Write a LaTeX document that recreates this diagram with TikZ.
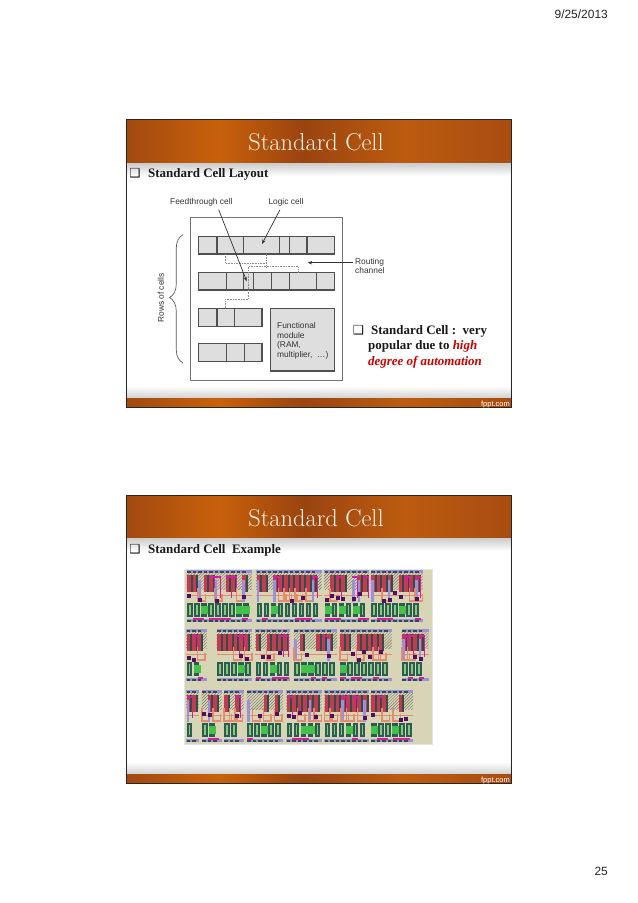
\documentclass[tikz,border=0pt]{standalone}
\usepackage{fontspec}
\usetikzlibrary{patterns,decorations.pathreplacing,arrows.meta}
\newfontfamily\serifb{Liberation Serif}
\newfontfamily\arialf{Liberation Sans}
\newfontfamily\dejav{DejaVu Sans}
\definecolor{hA}{HTML}{A24A10}
\definecolor{hB}{HTML}{C9610B}
\definecolor{hC}{HTML}{9A4410}
\definecolor{hD}{HTML}{BD5C10}
\definecolor{hE}{HTML}{A84C10}
\definecolor{cellfill}{HTML}{DEDEDE}
\definecolor{celledge}{HTML}{505050}
\definecolor{ink}{HTML}{333333}
\definecolor{laybg}{HTML}{D8D4B6}
\definecolor{lilac}{HTML}{9C8FDC}
\definecolor{lred}{HTML}{C53A50}
\definecolor{ldark}{HTML}{2E4F47}
\definecolor{lteal}{HTML}{2B5E50}
\definecolor{lgreen}{HTML}{45C04A}
\definecolor{lsalmon}{HTML}{E68A70}
\definecolor{lmag}{HTML}{D020A0}
\definecolor{lpurp}{HTML}{50105F}
\definecolor{hatchc}{HTML}{77776A}
\definecolor{titlec}{HTML}{FBF3E4}
\pgfdeclarehorizontalshading{hdrshade}{100bp}{color(0bp)=(hA); color(25bp)=(hA); color(37bp)=(hB); color(48bp)=(hC); color(61bp)=(hD); color(75bp)=(hE); color(100bp)=(hE)}
\tikzset{
 x=1bp,y=-1bp,
 band/.style={shading=hdrshade},
 frameline/.style={draw=black!85,line width=1bp},
 title/.style={text=titlec,font=\fontsize{24.5}{27}\selectfont,anchor=base},
 bullet/.style={font=\dejav\fontsize{12.5}{14}\selectfont,anchor=base,inner sep=0pt,text=black!90},
 slidetext/.style={font=\serifb\bfseries\fontsize{13}{15}\selectfont,anchor=base west,inner sep=0pt,text=black!90},
 fppt/.style={font=\arialf\fontsize{7.5}{9}\selectfont,text=white,anchor=base east,inner sep=0pt},
 pagetext/.style={font=\arialf\fontsize{12}{14}\selectfont,text=black!85,anchor=base east,inner sep=0pt},
 lab/.style={font=\arialf\fontsize{8.4}{9.6}\selectfont,text=ink,anchor=base west,inner sep=0pt},
 cellbox/.style={draw=celledge,fill=cellfill,line width=1.1bp,inner sep=0pt,outer sep=0pt},
 route/.style={draw=black!45,line width=0.8bp,dash pattern=on 0.8bp off 0.8bp},
 pointer/.style={draw=ink,line width=0.7bp,-{Stealth[length=4.5bp,width=3.5bp]}},
}
% one row of the schematic: name, top, bottom, cells as left/right
\newcommand{\cellrow}[4]{%
 \foreach \a/\b [count=\i] in {#4}{%
  \node[cellbox,minimum width={(\b-\a)*1bp},minimum height={(#3-#2)*1bp}] (#1\i) at ({(\a+\b)/2},{(#2+#3)/2}) {};
 }}
% one standard cell of the layout picture
\newcommand{\lcell}[3]{%
\begin{scope}[shift={(#1,#2)}]
 \pgfmathsetmacro{\lW}{#3}
 \pgfmathtruncatemacro{\lN}{floor(\lW/5.5)-1}
 \pgfmathtruncatemacro{\lM}{floor(\lW/7)-1}
 \fill[pattern=north east lines,pattern color=hatchc] (0,3) rectangle (\lW,19);
 \fill[lilac] (0,0) rectangle (\lW,3);
 \fill[lilac] (0,49) rectangle (\lW,52);
 \fill[lsalmon] (0,25) rectangle (\lW,26.2);
 \foreach \i in {0,...,\lN}{%
  \pgfmathsetmacro{\cx}{\i*5.5+0.6}
  \pgfmathsetmacro{\cy}{\cx+3.6}
  \pgfmathsetmacro{\cz}{\cx+5.5}
  \pgfmathrandominteger{\r}{0}{3}
  \ifnum\r>0
   \fill[lred] (\cx,5) rectangle (\cy,22);
   \fill[ldark] (\cy,5) rectangle (\cz,22);
  \fi
  \fill[ldark] (\cx,50) rectangle (\cy,52);
  \fill[ldark] (\cx,0.5) rectangle (\cy,2.5);
  \pgfmathrandominteger{\r}{0}{3}
  \ifnum\r=0
   \fill[lilac] (\cx,10) rectangle (\cx+2.5,32);
  \fi
  \pgfmathrandominteger{\r}{0}{2}
  \ifnum\r=0
   \draw[lsalmon,line width=1.3bp] (\cx,18) -- (\cx,31) -- (\cz+2,31) -- (\cz+2,24);
  \fi
  \pgfmathrandominteger{\r}{0}{3}
  \ifnum\r=1
   \draw[lmag,line width=1.1bp] (\cx,7) -- (\cz,7) -- (\cz,28);
  \fi
  \pgfmathrandominteger{\r}{0}{1}
  \ifnum\r=0
   \pgfmathrandominteger{\r}{21}{29}
   \fill[lpurp] (\cx,\r) rectangle (\cy+0.5,\r+4);
  \fi
  \pgfmathrandominteger{\r}{0}{2}
  \ifnum\r=0
   \fill[lmag] (\cx,48) rectangle (\cz,50);
  \fi
 }
 \foreach \i in {0,...,\lM}{%
  \pgfmathsetmacro{\cx}{\i*7+0.7}
  \pgfmathsetmacro{\cz}{\cx+5.6}
  \fill[lteal] (\cx,33) rectangle (\cz,47);
  \pgfmathrandominteger{\r}{0}{3}
  \ifnum\r=0 \fill[lgreen] (\cx,36) rectangle (\cz+1.4,44);\else
  \fill[lgreen!55!laybg] (\cx+2,35) rectangle (\cx+3.6,45);\fi
 }
\end{scope}}
\begin{document}
\begin{tikzpicture}
\useasboundingbox (0,0) rectangle (638,903);
\fill[white] (0,0) rectangle (638,903);
\node[pagetext] (date) at (608,18) {9/25/2013};
\node[pagetext] (page) at (608,875) {25};

% ---------- slide 1 ----------
\shade[top color=black!22,bottom color=white] (126.5,162) rectangle (511.5,176);
\shade[top color=white,bottom color=black!18] (126.5,386) rectangle (511.5,398);
\shade[band] (126.5,119.5) rectangle (511.5,162);
\shade[band] (126.5,398) rectangle (511.5,407.5);
\draw[frameline] (126.5,119.5) rectangle (511.5,407.5);
\node[title] (t1) at (316,150) {Standard Cell};
\node[fppt] (f1) at (510,406) {fppt.com};
\node[bullet] (b1) at (135,177) {❑};
\node[slidetext] (h1) at (148,177) {Standard Cell Layout};

\draw[draw=black!55,fill=white,line width=0.9bp] (190,217.7) rectangle (342.3,380.3);
\cellrow{ra}{236.3}{254}{198.3/217,217/243.7,243.7/279.7,279.7/289.3,289.3/307,307/334.3}
\cellrow{rb}{272.3}{290}{198.3/226.3,226.3/243.7,243.7/253.3,253.3/271.3,271.3/289.3,289.3/316.3,316.3/334.3}
\cellrow{rc}{308.3}{326.3}{198.3/217,217/234.7,234.7/262}
\cellrow{rd}{343.7}{361.7}{198.3/226.3,226.3/244.3,244.3/262}
\cellrow{fm}{308.3}{371}{270.3/334.3}

\draw[route] (225.7,254) |- (266.7,263.3) -- (266.7,254);
\draw[route] (266.7,263.3) -- (266.7,266.7);
\draw[route] (248.3,272.3) |- (298,266.7) -- (298,272.3);
\draw[route] (248.3,272.3) -- (248.3,299.3) -| (225.7,308.3);

\node[lab] (feed) at (170,204.5) {Feedthrough cell};
\node[lab] (logic) at (268.3,204.5) {Logic cell};
\node[lab] (rout) at (355,264) {Routing};
\node[lab] (chan) at (355,273.5) {channel};
\node[lab,rotate=90,anchor=center] (rows) at (161,298) {Rows of cells};
\node[lab] (fm1) at (277,328.5) {Functional};
\node[lab] (fm2) at (277,338) {module};
\node[lab] (fm3) at (277,347.5) {(RAM,};
\node[lab] (fm4) at (277,357) {multiplier,\ \ …)};

\coordinate (feedS) at (218.7,209.7);
\coordinate (feedE) at (246.7,281.3);
\coordinate (logS) at (280,209.7);
\coordinate (logE) at (262,244);
\coordinate (routS) at (352.7,262.7);
\coordinate (routE) at (307.7,262.7);
\draw[pointer] (feedS) -- (feedE);
\draw[pointer] (logS) -- (logE);
\draw[pointer] (routS) -- (routE);

\coordinate (brT) at (183,234.7);
\coordinate (brB) at (183,363);
\draw[draw=ink!80,line width=0.7bp,decorate,decoration={brace,amplitude=13.5bp,mirror,aspect=0.49}] (brT) -- (brB);

\node[bullet] (b2) at (358.5,334) {❑};
\node[slidetext] (s1) at (371,334) {Standard Cell :\ \ very};
\node[slidetext] (s2) at (368,349.5) {popular due to \textcolor{red!80!black}{\itshape high}};
\node[slidetext,text=red!80!black] (s3) at (368,365) {\itshape degree of automation};

% ---------- slide 2 ----------
\shade[top color=black!22,bottom color=white] (126.5,537) rectangle (511.5,551);
\shade[top color=white,bottom color=black!18] (126.5,762) rectangle (511.5,774);
\shade[band] (126.5,495.5) rectangle (511.5,537);
\shade[band] (126.5,774) rectangle (511.5,783);
\draw[frameline] (126.5,495.5) rectangle (511.5,783);
\node[title] (t2) at (316,526) {Standard Cell};
\node[fppt] (f2) at (510,782) {fppt.com};
\node[bullet] (b3) at (135,553) {❑};
\node[slidetext] (h2) at (148,553) {Standard Cell\ \ Example};

\fill[laybg] (184.5,569) rectangle (432,744);
\draw[black!10,line width=1bp] (184.5,569) rectangle (432,744);
\pgfmathsetseed{11}
\lcell{186.5}{570}{65}
\lcell{256}{570}{65.5}
\lcell{324}{570}{44.5}
\lcell{370.5}{570}{52}
\lcell{186}{629}{20.5}
\lcell{216.5}{629}{35}
\lcell{255}{629}{35}
\lcell{293.5}{629}{43.5}
\lcell{339.5}{629}{52}
\lcell{401.5}{629}{27}
\lcell{186}{690}{12.5}
\lcell{201.5}{690}{20}
\lcell{223.5}{690}{20}
\lcell{246.5}{690}{36.5}
\lcell{286}{690}{35.5}
\lcell{324}{690}{44.5}
\lcell{370.5}{690}{42.5}
\end{tikzpicture}
\end{document}
